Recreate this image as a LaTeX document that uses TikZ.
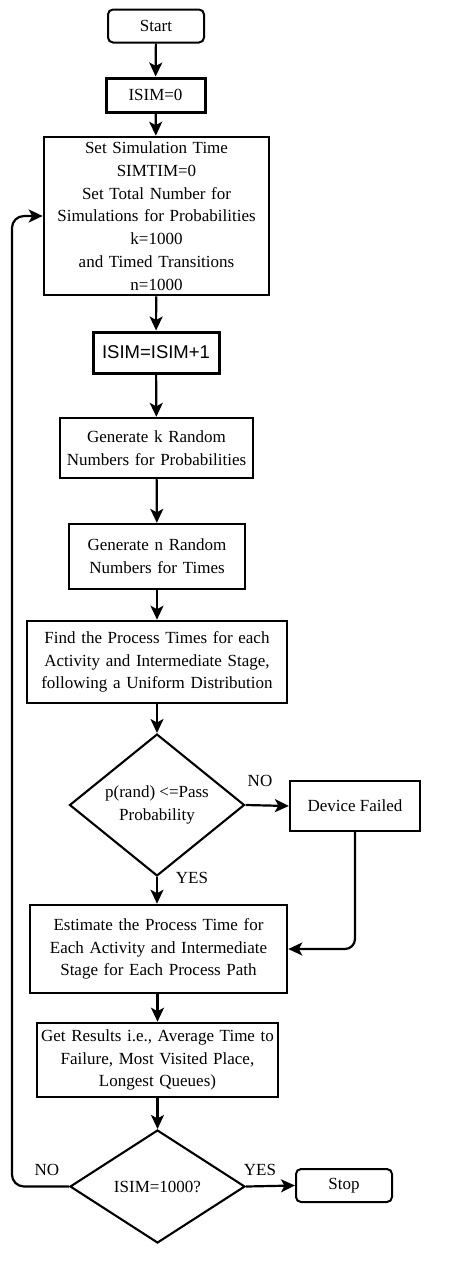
\documentclass[tikz,border=0pt]{standalone}
\usepackage{fontspec}
\setmainfont{Liberation Serif}
\newfontfamily\arialfont{Liberation Sans}
\usepackage{tikz}
\usetikzlibrary{arrows.meta,shapes.geometric}

\begin{document}
\begin{tikzpicture}[x=1pt,y=1pt,
	>={Stealth[length=14pt,width=13pt,inset=3.5pt]},
	every node/.style={font=\fontsize{17}{22.8}\selectfont},
	box/.style={draw,line width=2.3pt,inner sep=0pt,align=center},
	rbox/.style={box,rounded corners=5pt,line width=2pt},
	decision/.style={draw,diamond,line width=2.1pt,inner sep=0pt,align=center},
	flow/.style={->,line width=2.2pt},
	lbl/.style={inner sep=0pt}]
	\useasboundingbox (0,0) rectangle (448,-1269);
	%
	\node[rbox,minimum width=96,minimum height=33] (start) at (156,-26) {Start};
	\node[box,line width=3pt,minimum width=99,minimum height=34] (isim0) at (155.5,-95) {ISIM=0};
	\node[box,line width=2.6pt,text width=225,minimum height=158] (setsim) at (156.5,-216)
		{Set Simulation Time\\SIMTIM=0\\Set Total Number for\\Simulations for Probabilities\\k=1000\\and Timed Transitions\\n=1000};
	\node[box,line width=3pt,minimum width=126,minimum height=41,font=\arialfont\fontsize{18.5}{22}\selectfont] (isiminc) at (156,-352.5) {ISIM=ISIM+1};
	\node[box,text width=193,minimum height=60] (genk) at (156.5,-448) {Generate k Random\\Numbers for Probabilities};
	\node[box,text width=176,minimum height=65] (genn) at (157,-556.5) {Generate n Random\\Numbers for Times};
	\node[box,line width=2.6pt,text width=260,minimum height=82] (find) at (157,-662)
		{Find the Process Times for each\\Activity and Intermediate Stage,\\following a Uniform Distribution};
	\node[decision,minimum width=175,minimum height=113] (pass) at (157,-805) {p(rand) <=Pass\\Probability};
	\node[box,minimum width=130,minimum height=50] (failed) at (355,-806) {Device Failed};
	\node[box,line width=2.6pt,text width=257,minimum height=88] (est) at (158.5,-949)
		{Estimate the Process Time for\\Each Activity and Intermediate\\Stage for Each Process Path};
	\node[box,line width=2.6pt,text width=241,minimum height=74] (results) at (157.5,-1060)
		{Get Results i.e., Average Time to\\Failure, Most Visited Place,\\Longest Queues)};
	\node[decision,minimum width=175,minimum height=113] (done) at (157.5,-1186.5) {ISIM=1000?};
	\node[rbox,minimum width=96,minimum height=33] (stop) at (344,-1185.5) {Stop};
	%
	\node[lbl] (no1) at (260,-781) {NO};
	\node[lbl] (yes1) at (192,-878) {YES};
	\node[lbl] (no2) at (47,-1170) {NO};
	\node[lbl] (yes2) at (260,-1170) {YES};
	%
	\draw [flow] (start) -- (isim0);
	\draw [flow] (isim0) -- (setsim);
	\draw [flow] (setsim) -- (isiminc);
	\draw [flow] (isiminc) -- (genk);
	\draw [flow] (genk) -- (genn);
	\draw [flow] (genn.south) -- (find.north);
	\draw [flow] (find.south) -- (pass.north);
	\draw [flow] (pass.east) -- (failed.west);
	\draw [flow] (pass.south) -- (est.north -| pass.south);
	\draw [flow,rounded corners=10pt] (failed.south) |- (est.east);
	\draw [flow] (est.south -| results.north) -- (results.north);
	\draw [flow] (results.south) -- (done.north);
	\draw [flow] (done.east) -- (stop.west);
	\draw [flow,rounded corners=12pt] (done.west) -- ++(-57,0) |- (setsim.west);
\end{tikzpicture}
\end{document}
